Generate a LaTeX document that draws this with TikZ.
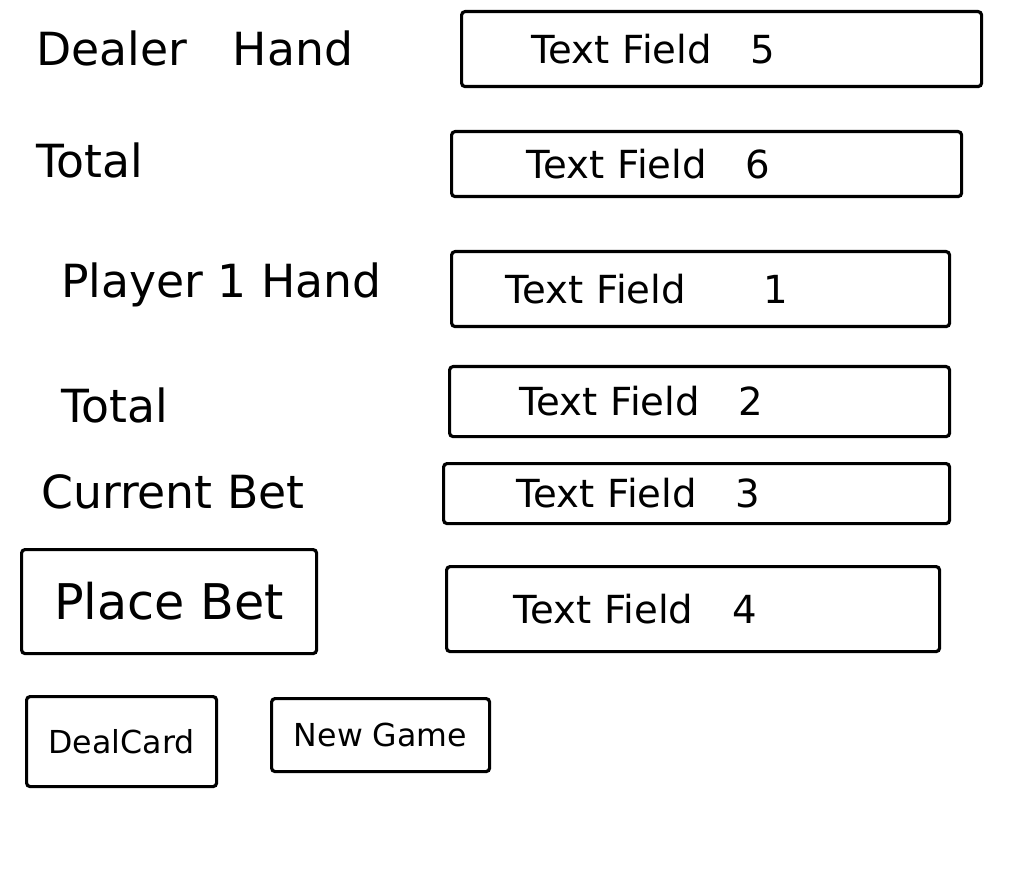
\documentclass[tikz,border=0pt]{standalone}
\usepackage{fontspec}
\setmainfont{DejaVu Sans}
\begin{document}
\begin{tikzpicture}[x=0.02cm,y=-0.02cm,
  lbl/.style={font=\fontsize{26}{30}\selectfont, anchor=west},
  box/.style={draw, line width=1.8pt, rounded corners=2pt, anchor=north west, align=left, inner sep=0pt, font=\fontsize{22}{26}\selectfont},
  btn/.style={draw, line width=1.8pt, rounded corners=2pt, anchor=north west, align=center, inner sep=0pt}]
\useasboundingbox (0,0) rectangle (1024,878);
\node[lbl] (l1) at (30,48) {Dealer\quad Hand};
\node[lbl] (l2) at (30,160) {Total};
\node[lbl] (l3) at (55,285) {Player 1 Hand};
\node[lbl] (l4) at (55,405) {Total};
\node[lbl] (l5) at (35,492) {Current Bet};
\node[box, minimum width=520*0.02cm, minimum height=75*0.02cm, text width=500*0.02cm] (tf5) at (460,10) {\hspace{1.2cm}Text Field\quad 5};
\node[box, minimum width=510*0.02cm, minimum height=65*0.02cm, text width=490*0.02cm] (tf6) at (450,130) {\hspace{1.3cm}Text Field\quad 6};
\node[box, minimum width=498*0.02cm, minimum height=75*0.02cm, text width=480*0.02cm] (tf1) at (450,250) {\hspace{0.9cm}Text Field\qquad 1};
\node[box, minimum width=500*0.02cm, minimum height=70*0.02cm, text width=480*0.02cm] (tf2) at (448,365) {\hspace{1.2cm}Text Field\quad 2};
\node[box, minimum width=506*0.02cm, minimum height=60*0.02cm, text width=490*0.02cm] (tf3) at (442,462) {\hspace{1.3cm}Text Field\quad 3};
\node[box, minimum width=493*0.02cm, minimum height=85*0.02cm, text width=480*0.02cm] (tf4) at (445,565) {\hspace{1.2cm}Text Field\quad 4};
\node[btn, minimum width=295*0.02cm, minimum height=104*0.02cm, font=\fontsize{28}{32}\selectfont] (pb) at (20,548) {Place Bet};
\node[btn, minimum width=190*0.02cm, minimum height=90*0.02cm, font=\fontsize{18}{22}\selectfont] (dc) at (25,695) {DealCard};
\node[btn, minimum width=218*0.02cm, minimum height=73*0.02cm, font=\fontsize{18}{22}\selectfont] (ng) at (270,697) {New Game};
\end{tikzpicture}
\end{document}
